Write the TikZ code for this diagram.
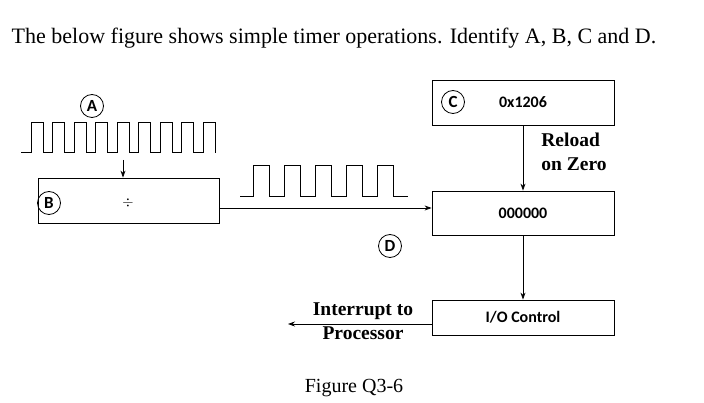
\documentclass[tikz,border=0pt]{standalone}
\usepackage{fontspec}
\setmainfont{Liberation Serif}
\newfontfamily\carl{Carlito}
\usetikzlibrary{arrows.meta}
\begin{document}
\begin{tikzpicture}[x=1pt,y=-1pt,line width=0.8pt,
  box/.style={draw,minimum width=182pt,inner sep=0pt,font=\carl\bfseries\fontsize{16}{16}\selectfont},
  lbl/.style={draw,circle,inner sep=0pt,minimum size=23pt,font=\carl\bfseries\fontsize{17}{17}\selectfont},
  arr/.style={-{Stealth[length=7pt,width=5pt]}},
  txt/.style={font=\bfseries\fontsize{19.5}{24}\selectfont,align=left}]
\useasboundingbox (0,0) rectangle (704,403);
\node[anchor=west,font=\fontsize{22}{22}\selectfont] (title) at (8,38) {The below figure shows simple timer operations. Identify A, B, C and D.};
\node[box,minimum height=45pt] (c) at (523,102.5) {0x1206};
\node[box,minimum height=44pt] (cnt) at (523,213) {000000};
\node[box,minimum height=35pt] (io) at (523,317.5) {I/O Control};
\node[draw,minimum width=181pt,minimum height=45pt,inner sep=0pt] (b) at (128.5,200.5) {};
\node[font=\Large] (div) at (128,203) {$\div$};
\node[lbl] (A) at (92,106) {A};
\node[lbl] (B) at (49,203) {B};
\node[lbl] (C) at (453,102) {C};
\node[lbl] (D) at (390,246) {D};
\node[txt] (reload) at (574,152) {Reload\\on Zero};
\node[txt,align=center] (intr) at (363,321) {Interrupt to\\Processor};
\node[font=\fontsize{20}{20}\selectfont] (fig) at (354,388) {Figure Q3-6};
% waveforms
\draw[line width=1pt] (21,153) -- (31,153)
  foreach \i in {1,...,8} { -- ++(0,-30) -- ++(12,0) -- ++(0,30) -- ++(9.5,0) }
  -- ++(0,-30) -- ++(12,0) -- ++(0,30);
\draw[line width=1pt] (240,197) -- (253,197)
  foreach \i in {0,...,4} { -- ++(0,-31) -- ++(16,0) -- ++(0,31) -- ++(15,0) };
\coordinate (wa) at (123,160);
\draw[arr] (wa) -- (wa |- b.north);
\draw[arr] (b.east |- 0,208) -- (cnt.west |- 0,208);
\draw[arr] (c.south) -- (cnt.north);
\draw[arr] (cnt.south) -- (io.north);
\coordinate (ie) at (288,324);
\draw[arr] (io.west |- ie) -- (ie);
\end{tikzpicture}
\end{document}
